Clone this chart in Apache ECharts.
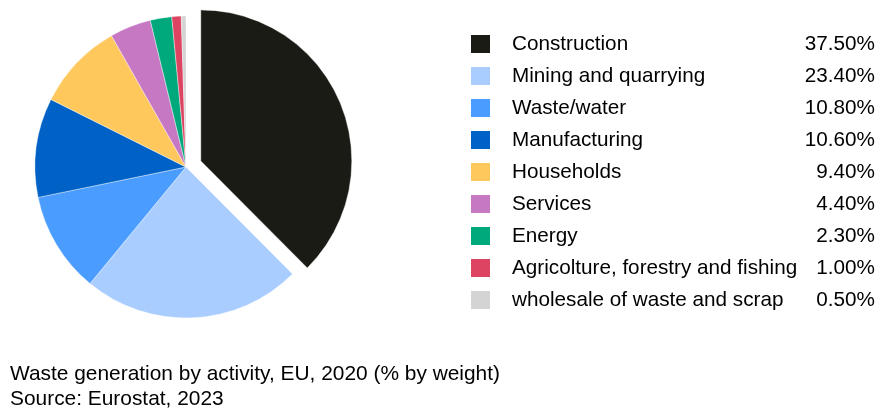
<!DOCTYPE html>
<html>
<head>
<meta charset="utf-8">
<script src="https://cdn.jsdelivr.net/npm/echarts@6/dist/echarts.min.js"></script>
<style>html,body{margin:0;padding:0;background:#fff}#c{width:885px;height:418px}</style>
</head>
<body>
<div id="c"></div>
<script>
const categories = ["Construction","Mining and quarrying","Waste/water","Manufacturing","Households","Services","Energy","Agricolture, forestry and fishing","wholesale of waste and scrap"];
const values = [37.5,23.4,10.8,10.6,9.4,4.4,2.3,1.0,0.5];
const colors = ["#1b1b16","#aacdff","#4a9cff","#0061c6","#ffc85c","#c678c2","#00a97b","#dd4462","#d4d4d4"];
const caption = "Waste generation by activity, EU, 2020 (% by weight)\nSource: Eurostat, 2023";

const FONT = "Liberation Sans, Arial, sans-serif";
const chart = echarts.init(document.getElementById('c'), null, {renderer:'canvas'});
const pctMap = {};
categories.forEach((c,i)=>{ pctMap[c] = values[i].toFixed(2) + '%'; });

chart.setOption({
  animation:false,
  color: colors,
  title:{
    text: caption, left: 10, top: 362, padding:0,
    textStyle:{fontFamily:FONT,fontSize:20.9,fontWeight:'normal',color:'#000',lineHeight:25}
  },
  legend:{
    orient:'vertical', left:469, top:33, padding:0,
    itemWidth:21, itemHeight:20, itemGap:10,
    icon:'rect', selectedMode:false,
    data: categories,
    formatter: n => '{n|' + n + '}{v|' + pctMap[n] + '}',
    textStyle:{
      fontFamily:FONT, fontSize:20.7, color:'#000', lineHeight:20, height:20,
      rich:{
        n:{fontFamily:FONT,fontSize:20.7,color:'#000',width:290,height:20,lineHeight:20,padding:[0,0,0,16]},
        v:{fontFamily:FONT,fontSize:20.7,color:'#000',width:73,height:20,align:'right',lineHeight:20}
      }
    }
  },
  series:[{
    type:'pie',
    center:[186,167], radius:[0,151],
    startAngle:90, clockwise:true,
    selectedMode:'single', selectedOffset:16,
    label:{show:false}, labelLine:{show:false},
    emphasis:{disabled:true},
    itemStyle:{borderColor:'#fff',borderWidth:0.4},
    data: categories.map((c,i)=>({name:c,value:values[i],selected:i===0}))
  }]
});
</script>
</body>
</html>
